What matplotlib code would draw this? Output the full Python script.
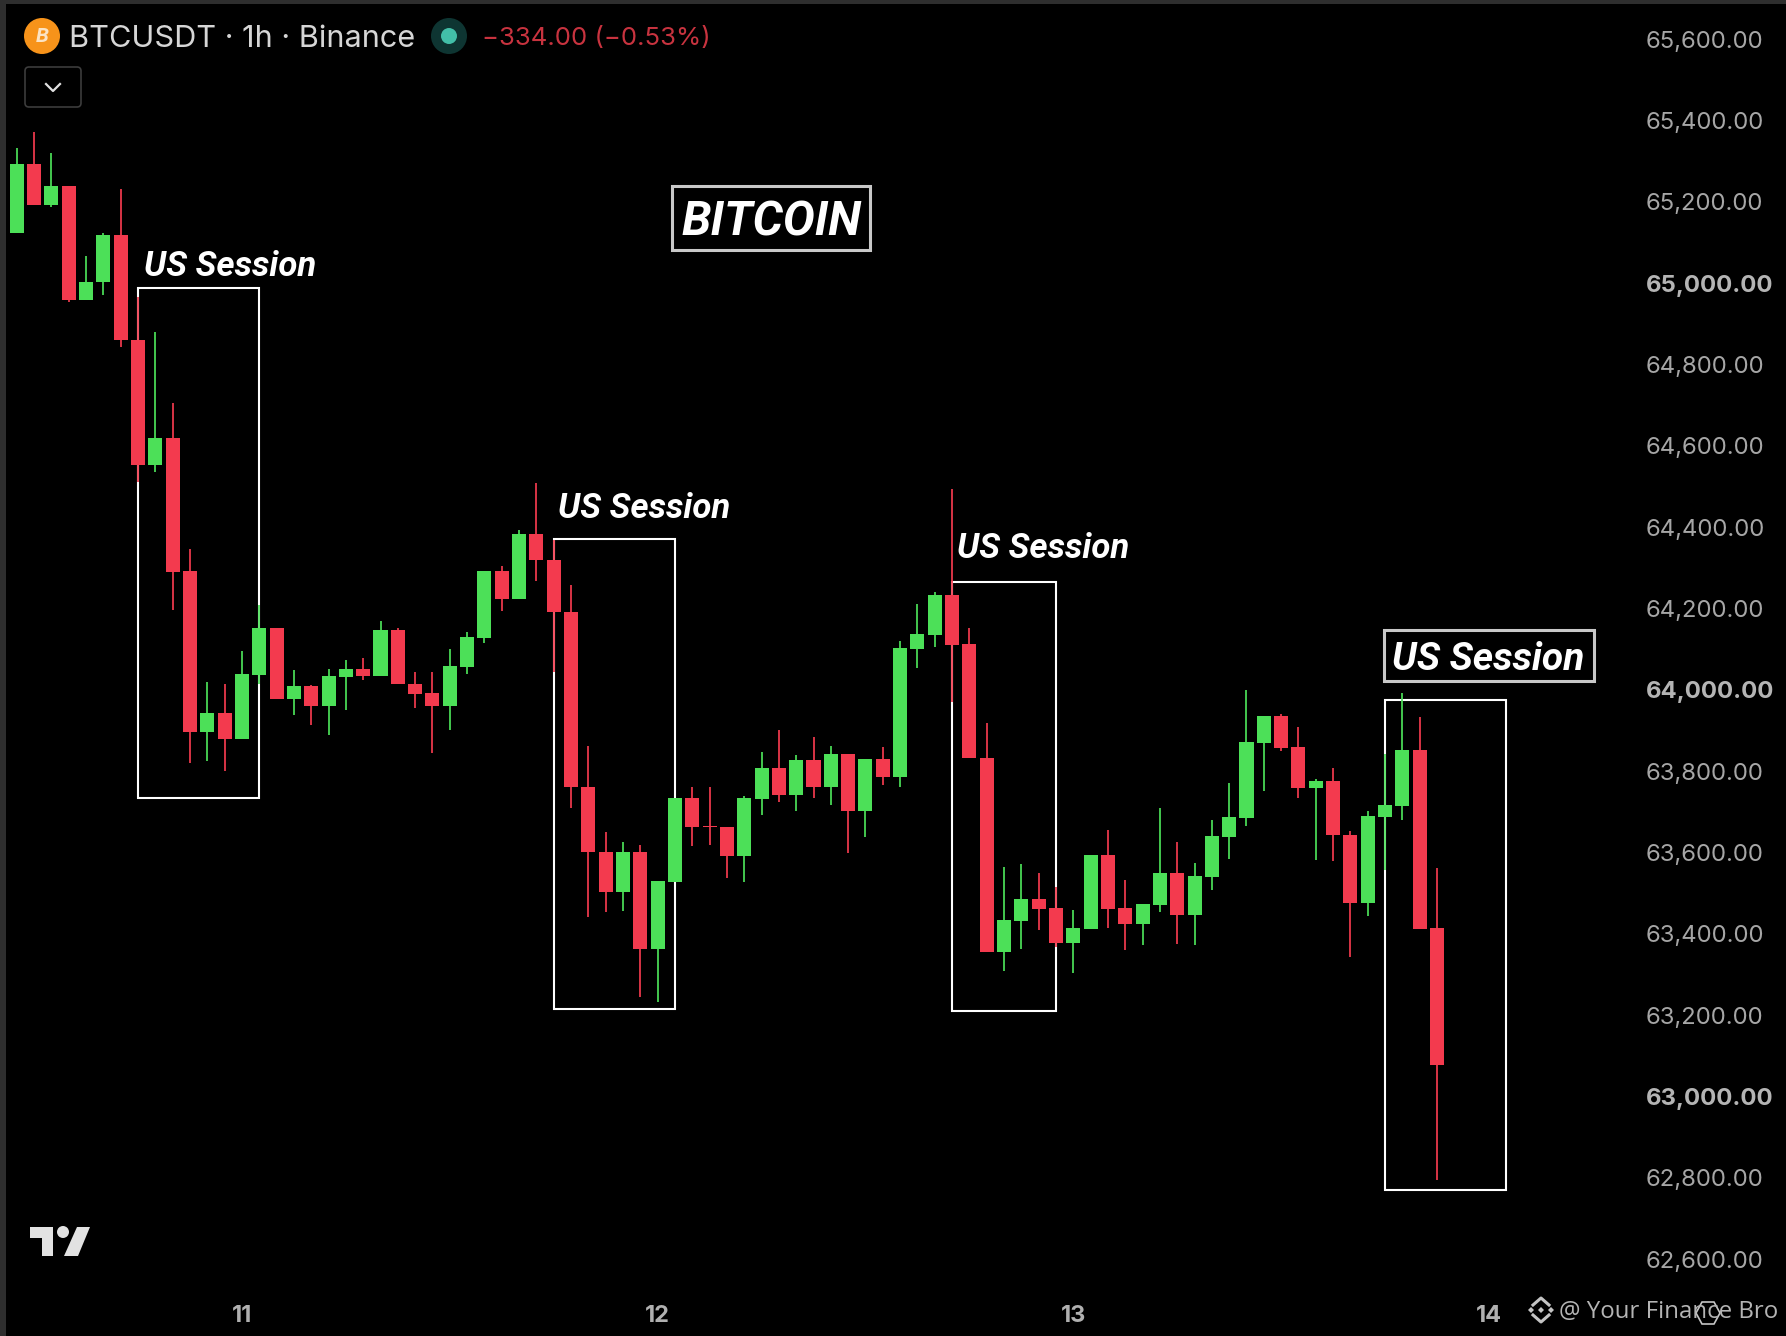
import matplotlib
matplotlib.use('Agg')
import matplotlib.pyplot as plt
import matplotlib.transforms as mtransforms
from matplotlib.patches import Rectangle, Circle, Polygon, FancyBboxPatch
from matplotlib.lines import Line2D

# one candle per hour, starting at 11:00 on the 10th
opens = [65124, 65293, 65192, 65239, 64958, 65003, 65118, 64861, 64552, 64619, 64292, 63896, 63944, 63879,
         64036, 64151, 63978, 64009, 63960, 64032, 64052, 64033, 64147, 64015, 63991, 63960, 64056, 64127,
         64292, 64223, 64383, 64320, 64192, 63762, 63602, 63502, 63601, 63363, 63528, 63734, 63666, 63662,
         63592, 63732, 63807, 63741, 63827, 63760, 63841, 63701, 63829, 63785, 64101, 64134, 64233, 64112,
         63832, 63355, 63432, 63485, 63463, 63378, 63412, 63593, 63463, 63424, 63471, 63549, 63446, 63539,
         63638, 63685, 63869, 63935, 63858, 63759, 63775, 63644, 63476, 63687, 63714, 63851, 63413]
closes = [65293, 65192, 65239, 64958, 65003, 65118, 64860, 64552, 64619, 64290, 63896, 63944, 63879, 64038,
          64151, 63978, 64009, 63960, 64033, 64052, 64033, 64147, 64014, 63989, 63960, 64058, 64129, 64292,
          64223, 64383, 64319, 64192, 63761, 63601, 63502, 63601, 63363, 63529, 63734, 63662, 63663, 63592,
          63734, 63807, 63741, 63827, 63760, 63841, 63701, 63829, 63785, 64103, 64136, 64233, 64110, 63831,
          63355, 63434, 63485, 63462, 63378, 63414, 63593, 63461, 63424, 63473, 63549, 63446, 63541, 63640,
          63687, 63871, 63935, 63856, 63759, 63775, 63642, 63476, 63689, 63716, 63851, 63411, 63077]
highs = [65331, 65371, 65321, 65239, 65066, 65122, 65232, 64966, 64880, 64706, 64345, 64019, 64014, 64095,
         64208, 64151, 64048, 64011, 64050, 64073, 64078, 64168, 64152, 64043, 64043, 64099, 64141, 64292,
         64304, 64393, 64509, 64368, 64257, 63862, 63651, 63625, 63618, 63529, 63734, 63760, 63761, 63662,
         63738, 63848, 63902, 63839, 63884, 63861, 63841, 63829, 63860, 64121, 64211, 64241, 64493, 64151,
         63918, 63564, 63571, 63550, 63514, 63458, 63593, 63655, 63531, 63473, 63708, 63625, 63573, 63679,
         63770, 64000, 63935, 63940, 63908, 63780, 63808, 63652, 63702, 63842, 63991, 63933, 63561]
lows = [65124, 65192, 65186, 64953, 64958, 64971, 64842, 64511, 64536, 64196, 63821, 63824, 63800, 63879,
        64015, 63978, 63938, 63913, 63888, 63950, 64024, 64033, 64014, 63956, 63845, 63902, 64038, 64115,
        64194, 64223, 64267, 64044, 63708, 63442, 63453, 63456, 63245, 63232, 63528, 63616, 63618, 63536,
        63528, 63692, 63723, 63701, 63734, 63716, 63599, 63637, 63766, 63760, 64053, 64105, 63969, 63831,
        63355, 63308, 63363, 63409, 63368, 63303, 63411, 63414, 63361, 63373, 63453, 63376, 63373, 63508,
        63583, 63665, 63751, 63850, 63734, 63581, 63578, 63343, 63443, 63556, 63680, 63411, 62794]

y_ticks = [62600, 62800, 63000, 63200, 63400, 63600, 63800, 64000, 64200, 64400, 64600, 64800, 65000, 65200,
           65400, 65600]
y_labels = ['62,600.00', '62,800.00', '63,000.00', '63,200.00', '63,400.00', '63,600.00', '63,800.00',
            '64,000.00', '64,200.00', '64,400.00', '64,600.00', '64,800.00', '65,000.00', '65,200.00',
            '65,400.00', '65,600.00']
x_ticks = [13, 37, 61, 85]
x_labels = ['11', '12', '13', '14']

# session boxes, candle index and price
box_left = [7, 31, 54, 79]
box_right = [14, 38, 60, 86]
box_top = [64987, 64371, 64265, 63975]
box_bottom = [63734, 63216, 63210, 62771]

GREEN = '#4ce058'
RED = '#f33a4e'

W, H = 1786, 1336
fig = plt.figure(figsize=(W / 100, H / 100), dpi=100, facecolor='black')
# figure pixels, y going down, for everything that is pasted on the screenshot
px = mtransforms.Affine2D().scale(1, -1).translate(0, H)

ax = fig.add_axes([0, (H - 1290) / H, 1640 / W, 1290 / H], facecolor='black')
ax.set_xlim(-0.97, 93.72)
ax.set_ylim(62524, 65696)
for s in ax.spines.values():
    s.set_visible(False)

for i in range(len(opens)):
    col = GREEN if closes[i] >= opens[i] else RED
    ax.vlines(i, lows[i], highs[i], color=col, lw=1.25, zorder=3)
    top = max(opens[i], closes[i])
    bot = min(opens[i], closes[i])
    ax.bar(i, top - bot, bottom=bot, width=0.81, color=col, lw=0, zorder=3)

for l, r, t, b in zip(box_left, box_right, box_top, box_bottom):
    ax.add_patch(Rectangle((l, b), r - l, t - b, fill=False, ec='white', lw=1.5, zorder=2, clip_on=False))

ax.yaxis.tick_right()
ax.set_yticks(y_ticks)
ax.set_yticklabels(y_labels, family='Inter', fontsize=17.2, color='#a6a6a6')
down = mtransforms.ScaledTranslation(0, -1.2 / 100, fig.dpi_scale_trans)
for v, lab in zip(y_ticks, ax.get_yticklabels()):
    lab.set_transform(lab.get_transform() + down)
    if v % 1000 == 0:
        lab.set_fontweight('bold')
        lab.set_color('#b4b4b4')
ax.set_xticks(x_ticks)
ax.set_xticklabels(x_labels, family='Inter', fontsize=17, fontweight='bold', color='#b0b0b0')
ax.tick_params(axis='y', length=0, pad=4.3)
ax.tick_params(axis='x', length=0, pad=10.5)

# screen edge
fig.add_artist(Rectangle((0, 0), 6, H, transform=px, fc='#2e2e2e', lw=0))
fig.add_artist(Rectangle((0, 0), W, 4, transform=px, fc='#2e2e2e', lw=0))

# header
fig.add_artist(Circle((42, 36), 18, transform=px, fc='#f7931a', lw=0))
fig.text(42, 37, 'B', transform=px, color='#fbe3c4', fontsize=15, family='Roboto', fontweight='bold', style='italic',
         ha='center', va='center')
fig.text(69, 39, 'BTCUSDT · 1h · Binance', transform=px, color='#d6d6d6', fontsize=22.1, family='Inter', va='center')
fig.add_artist(Circle((449, 36), 18, transform=px, fc='#0e3532', lw=0))
fig.add_artist(Circle((449, 36), 8, transform=px, fc='#42bfa8', lw=0))
fig.text(482, 39, '−334.00 (−0.53%)', transform=px, color='#c8333f', fontsize=18.5, family='Inter', va='center')
fig.add_artist(FancyBboxPatch((27, 69), 52, 36, boxstyle='round,pad=2,rounding_size=4', transform=px,
                              fc='black', ec='#3c3c3c', lw=1.2))
fig.add_artist(Line2D([46, 53, 60], [84, 91, 84], transform=px, color='#e0e0e0', lw=1.6))

# annotations
session_x = [144, 558, 957]
session_y = [267, 509, 549]
for x, y in zip(session_x, session_y):
    fig.text(x, y, 'US Session', transform=px, color='white', fontsize=25, family='Roboto', fontweight='bold',
             style='italic', va='center')
fig.add_artist(Rectangle((1384, 630), 210, 51, transform=px, fill=False, ec='#c8c8c8', lw=2.2))
fig.text(1488, 660, 'US Session', transform=px, color='white', fontsize=28, family='Roboto', fontweight='bold',
         style='italic', ha='center', va='center')
fig.add_artist(Rectangle((672, 186), 198, 64, transform=px, fill=False, ec='#c8c8c8', lw=2.2))
fig.text(771, 222, 'BITCOIN', transform=px, color='white', fontsize=34.3, family='Roboto', fontweight='bold',
         style='italic', ha='center', va='center')

# tradingview mark
fig.add_artist(Polygon([(30, 1227), (53, 1227), (53, 1256), (42, 1256), (42, 1238), (30, 1238)], transform=px,
                       fc='#e2e2e2', lw=0))
fig.add_artist(Circle((63, 1232), 6, transform=px, fc='#e2e2e2', lw=0))
fig.add_artist(Polygon([(77, 1227), (90, 1227), (78, 1256), (64, 1256)], transform=px, fc='#e2e2e2', lw=0))

# watermark
cx, cy = 1541, 1310
for dx in (-10, 0, 10):
    fig.add_artist(Polygon([(cx + dx - 3, cy), (cx + dx, cy - 3), (cx + dx + 3, cy), (cx + dx, cy + 3)], transform=px,
                           fc='#c4c4c4', lw=0))
for sign in (-1, 1):
    fig.add_artist(Line2D([cx - 8, cx, cx + 8], [cy + sign * 5, cy + sign * 12, cy + sign * 5], transform=px,
                          color='#c4c4c4', lw=2.2))
fig.text(1559, 1312, '@ Your Finance Bro', transform=px, color='#b4b4b4', fontsize=17.3, family='Open Sans', va='center')
fig.add_artist(Polygon([(1696, 1313), (1702, 1302), (1714, 1302), (1720, 1313), (1714, 1324), (1702, 1324)],
                       transform=px, fill=False, ec='#c4c4c4', lw=1.2))

fig.savefig('out.png', dpi=100, facecolor='black')
